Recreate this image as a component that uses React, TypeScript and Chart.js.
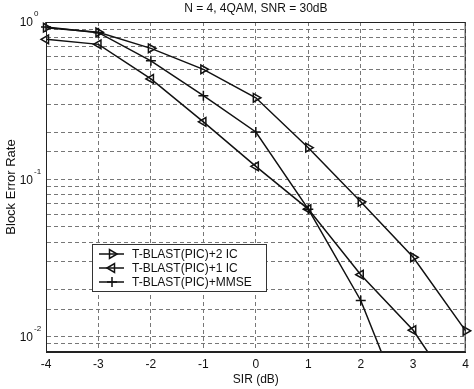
import { useEffect, useRef } from 'react';
import { Chart, registerables } from 'chart.js';

Chart.register(...registerables);

// ---- data ----
const sirDb = [-4, -3, -2, -1, 0, 1, 2, 3, 4];
const blerPic2Ic = [0.92, 0.86, 0.68, 0.5, 0.33, 0.159, 0.072, 0.032, 0.0109];
const blerPic1Ic = [0.776, 0.721, 0.435, 0.232, 0.121, 0.0647, 0.0248, 0.011, 0.0035];
const blerPicMmse = [0.93, 0.855, 0.567, 0.34, 0.2, 0.0647, 0.017, 0.0025];
const seriesLabels = ['T-BLAST(PIC)+2 IC', 'T-BLAST(PIC)+1 IC', 'T-BLAST(PIC)+MMSE'];
const yMajorTicks = [1, 0.1, 0.01];
const yMajorExponents = ['0', '-1', '-2'];
const titleText = 'N = 4, 4QAM, SNR = 30dB';
const xTitle = 'SIR (dB)';
const yTitle = 'Block Error Rate';

const FONT = '"Liberation Sans", Arial, Helvetica, sans-serif';
const INK = '#111';

type Marker = { style: 'triangle' | 'cross'; rotation: number };
const markers: Marker[] = [
  { style: 'triangle', rotation: 90 },
  { style: 'triangle', rotation: -90 },
  { style: 'cross', rotation: 0 },
];

function drawMarker(ctx: CanvasRenderingContext2D, m: Marker, x: number, y: number, r: number) {
  let rad = (m.rotation * Math.PI) / 180;
  ctx.beginPath();
  if (m.style === 'triangle') {
    const step = (2 * Math.PI) / 3;
    ctx.moveTo(x + Math.sin(rad) * r, y - Math.cos(rad) * r);
    rad += step;
    ctx.lineTo(x + Math.sin(rad) * r, y - Math.cos(rad) * r);
    rad += step;
    ctx.lineTo(x + Math.sin(rad) * r, y - Math.cos(rad) * r);
    ctx.closePath();
  } else {
    ctx.moveTo(x, y - r);
    ctx.lineTo(x, y + r);
    ctx.moveTo(x - r, y);
    ctx.lineTo(x + r, y);
  }
  ctx.stroke();
}

const decorPlugin = {
  id: 'decor',
  afterDraw(chart: any) {
    const { ctx, chartArea: a, scales } = chart;
    const ys = scales.y;
    ctx.save();
    ctx.setLineDash([]);
    // axes box
    ctx.strokeStyle = '#222';
    ctx.lineWidth = 1;
    ctx.strokeRect(a.left + 0.5, a.top + 0.5, a.right - a.left - 1, a.bottom - a.top - 1);

    ctx.fillStyle = INK;
    // y major tick labels with superscript exponents
    yMajorTicks.forEach((v, i) => {
      const py = ys.getPixelForValue(v);
      ctx.font = `12px ${FONT}`;
      ctx.textAlign = 'right';
      ctx.textBaseline = 'middle';
      ctx.fillText('10', a.left - 13, py + 1);
      ctx.font = `8px ${FONT}`;
      ctx.textAlign = 'left';
      ctx.fillText(yMajorExponents[i], a.left - 12, py - 8);
    });

    const cx = (a.left + a.right) / 2;
    ctx.font = `12px ${FONT}`;
    ctx.textAlign = 'center';
    ctx.textBaseline = 'middle';
    ctx.fillText(titleText, cx, 9);
    ctx.fillText(xTitle, cx, 380);

    ctx.save();
    ctx.translate(11, (a.top + a.bottom) / 2);
    ctx.rotate(-Math.PI / 2);
    ctx.font = `13px ${FONT}`;
    ctx.fillText(yTitle, 0, 0);
    ctx.restore();

    // legend
    const lx = 92, ly = 244, lw = 174, lh = 47;
    ctx.fillStyle = '#fff';
    ctx.fillRect(lx, ly, lw, lh);
    ctx.strokeStyle = '#333';
    ctx.lineWidth = 1;
    ctx.strokeRect(lx + 0.5, ly + 0.5, lw, lh);
    seriesLabels.forEach((label, i) => {
      const yy = ly + 10 + i * 14;
      ctx.strokeStyle = INK;
      ctx.lineWidth = 1.5;
      ctx.beginPath();
      ctx.moveTo(lx + 7, yy);
      ctx.lineTo(lx + 32, yy);
      ctx.stroke();
      drawMarker(ctx, markers[i], lx + 20, yy, 5);
      ctx.fillStyle = INK;
      ctx.font = `12px ${FONT}`;
      ctx.textAlign = 'left';
      ctx.textBaseline = 'middle';
      ctx.fillText(label, lx + 40, yy + 1);
    });
    ctx.restore();
  },
};

export default function App() {
  const ref = useRef<HTMLCanvasElement | null>(null);

  useEffect(() => {
    if (!ref.current) return;
    const series = [blerPic2Ic, blerPic1Ic, blerPicMmse];
    const gridOpts = { color: '#777', lineWidth: 1, drawTicks: false };
    const borderOpts = { display: true, color: '#222', width: 1, dash: [4, 3] };
    const chart = new Chart(ref.current, {
      type: 'line',
      data: {
        datasets: series.map((vals, i) => ({
          label: seriesLabels[i],
          data: vals.map((v, j) => ({ x: sirDb[j], y: v })),
          borderColor: INK,
          borderWidth: 1.5,
          tension: 0,
          pointStyle: markers[i].style,
          pointRotation: markers[i].rotation,
          pointRadius: 5,
          pointBorderWidth: 1.5,
          pointBorderColor: INK,
          pointBackgroundColor: 'rgba(0,0,0,0)',
          clip: { left: false, right: false, top: false, bottom: 0 },
        })) as any,
      },
      options: {
        animation: false,
        responsive: false,
        devicePixelRatio: 1,
        layout: { padding: { top: 22, right: 8, left: 0, bottom: 0 } },
        plugins: {
          legend: { display: false },
          title: { display: false },
          tooltip: { enabled: false },
        },
        scales: {
          x: {
            type: 'linear',
            min: -4,
            max: 4,
            afterFit: (s: any) => {
              s.height = 37;
            },
            ticks: {
              stepSize: 1,
              color: INK,
              padding: 5,
              font: { family: FONT, size: 12 },
              maxRotation: 0,
              autoSkip: false,
            },
            grid: gridOpts,
            border: borderOpts,
          },
          y: {
            type: 'logarithmic',
            min: 0.008,
            max: 1,
            afterFit: (s: any) => {
              s.width = 46;
            },
            ticks: { display: false },
            grid: gridOpts,
            border: borderOpts,
          },
        },
      } as any,
      plugins: [decorPlugin],
    });
    return () => chart.destroy();
  }, []);

  return (
    <div style={{ position: 'absolute', left: 0, top: 0, width: 474, height: 389, background: '#fff' }}>
      <canvas ref={ref} width={474} height={389} />
    </div>
  );
}
